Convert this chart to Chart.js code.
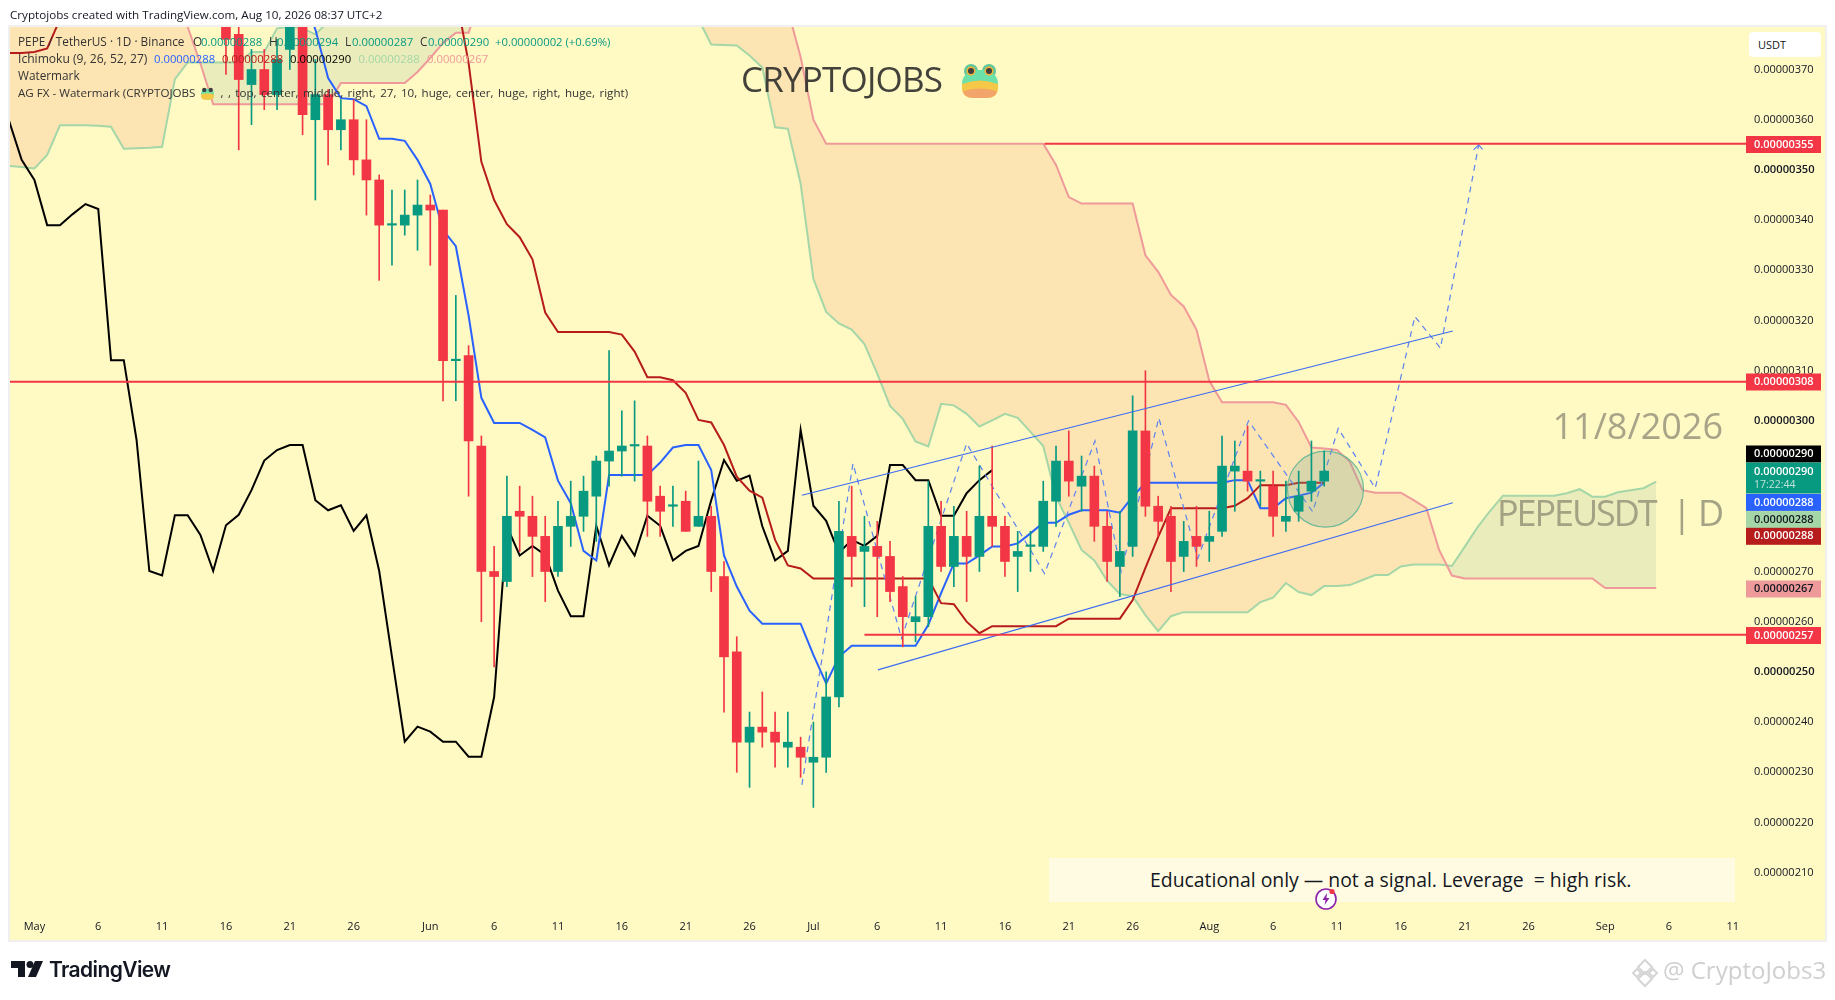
<!DOCTYPE html>
<html><head><meta charset="utf-8">
<script src="https://cdn.jsdelivr.net/npm/chart.js@4"></script>
<style>
html,body{margin:0;padding:0;background:#fff;width:1835px;height:1000px;overflow:hidden}
#wrap{position:relative;width:1835px;height:1000px}
canvas{position:absolute;left:0;top:0}
.t{position:absolute;white-space:pre;font-family:"Open Sans",sans-serif;line-height:1}
.lg{font-size:11.3px;color:#333}
</style></head><body><div id="wrap"><canvas id="c" width="1835" height="1000"></canvas></div>
<script>
// All prices are in units of 0.00000001 USDT. Day numbers count from 1 May (0 = May 1).
const candleFirstDay = 15;
const opens = [385,377,367,370,365,374,383,360,365,358,360,352,348,339,339,341,343,342,312,313,295,270,268,282,281,277,270,279,281,285,292,294,295,295,285,283,284,279,281,269,254,236,239,238,235,235,232,233,245,277,274,275,273,267,260,261,279,271,277,273,281,279,273,275,275,284,292,287,289,279,271,275,298,283,281,273,277,276,278,290,290,288,287,280,282,286,288];
const highs = [390,382,374,374,376,386,386,372,366,364,364,360,349,346,346,348,345,342,325,315,297,275,289,287,285,281,284,288,289,293,314,302,304,297,287,287,286,292,283,272,257,242,246,242,242,237,240,250,284,287,281,280,276,269,265,288,284,283,282,291,295,281,278,278,288,295,298,293,291,282,282,305,310,285,283,280,283,282,297,296,299,290,290,288,290,296,294];
const lows = [369,354,359,362,362,370,357,344,351,354,349,341,328,331,337,334,331,304,304,285,260,251,267,274,269,264,269,275,278,276,287,289,288,277,277,279,278,279,266,242,230,227,235,231,231,229,223,230,243,267,263,261,264,255,256,259,270,267,264,270,275,269,266,270,274,279,285,282,276,268,265,273,281,277,266,270,271,272,277,282,286,283,277,278,280,284,287];
const closes = [376,368,370,365,372,383,361,365,358,360,352,348,339,339,341,343,342,312,312,296,270,269,281,281,277,270,279,281,286,292,294,295,295,284,282,283,278,281,270,253,236,239,238,236,236,233,233,245,278,273,275,273,266,261,261,279,271,277,273,281,279,272,274,275,284,292,288,289,279,272,274,298,283,280,272,276,275,277,291,291,288,288,281,281,285,288,290];

const conversionFirstDay = 21;
const conversion = [385,378,368.3,364.3,364.1,362.7,356.2,356.2,355.8,352,
347.2,338,334.8,321,304.6,299.6,299.6,299.6,298.2,296.7,
288.1,283.6,274.1,272.2,289.2,289.2,289.2,289.2,291.7,294.7,
295.2,295.2,290.2,273.2,267,262.2,259.6,259.6,259.6,259.6,
253.4,247.7,253,255.2,255.2,255.2,255.2,255.2,255.2,259.4,
265.7,271.6,271.6,273.2,275,275,275.6,277.6,279.7,279.7,
281.3,282.2,282.2,282.2,281.7,284.9,287.7,287.7,287.7,287.7,
287.7,287.7,287.7,288.2,288.2,282.6,282.6,284.6,285.1,285.7,287.7];

const seriesFirstDay = -2;
const base = [373.3,373.3,373.5,374.2,380,395,395,395,395,395,
395,395,395,395,395,395,395,395,395,395,
395,395,395,395,395,395,395,395,395,395,
395,395,395,395,395,385,371.3,351.6,344,339.2,
336.6,332.2,321.6,317.7,317.7,317.7,317.7,317.7,317.2,313.8,
308.7,308.7,308.1,305.6,300.2,299.7,295.2,288.9,286.1,284.7,
276.3,271.2,270.6,268.6,268.6,268.6,268.6,268.6,268.6,268.6,
268.6,268.6,268.6,263.7,263.5,260,257.7,259.1,259.1,259.1,
259.1,259.1,259.1,260.6,260.6,260.6,260.6,260.6,264.3,270.7,
276.9,282.6,282.6,282.6,282.6,282.6,283.1,284.6,287.2,287.2,
287.2,287.7,287.7,287.7];
const lagging = [359.9,352,348,339,339,341.2,343.2,342.2,312.1,312.1,
296.2,270.1,269.2,281.2,281.2,277.3,270.1,279.2,281.3,286.2,
292.1,294.2,295.2,295.2,284.2,282.2,283.2,278.1,281.2,270.1,
253,236.1,239.1,238.1,236.1,236.1,233.1,233.1,245,279,
273.2,275.1,273.3,266.2,261.1,261.1,279.1,271.2,277.1,273.2,
281.1,279.1,272.2,274.1,275.1,284.2,292.2,288.1,289.1,279,
272.2,274.1,298.2,283.1,280.1,273.7,276.3,275.1,277.1,291.2,
291.2,288.2,288.2,281.1,281.1,285.6,288.2,290.2];
const leadA = [350.8,350.6,350.3,353,358.9,358.9,358.9,358.8,358.6,354.2,
354.3,354.4,354.6,368.1,371.4,371.4,371.4,371.4,371.4,373.5,
373.5,378.2,378.5,378.2,377,379.5,385,385,385,385,
385,385,385,385,385,385,385,385,385,385,
385,385,385,385,385,385,385,385,385,385,
385,385,385,385,380,375,374.9,374.8,372.8,370.4,
358.5,358.2,347.3,328.3,321.7,319.4,318.2,315.3,309.4,303,
300.4,295.9,294.9,303.4,303.1,301.4,298.9,300.1,301.4,300.6,
297.8,295,284.9,279.7,274.3,272.2,268.2,265.5,265.1,261.3,
258.1,261.1,261.9,261.9,261.9,261.9,261.9,261.9,263.9,264.8,
267.7,265.9,265.3,267.1,267.1,267.3,268.3,269.3,269.3,271,
271.4,271.4,271.4,271.1,274.9,278.8,282.1,285.1,285.1,285.1,
285.1,285.1,285.6,286.4,284.9,284.9,285.8,286.2,286.6,287.9];
const leadB = [395,395,395,395,395,395,395,395,395,395,
395,395,395,395,378.5,371.2,363.1,363.1,363.1,363.1,
363.1,363.1,363.1,363.1,363.1,363.1,367.3,367.3,367.3,367.3,
367.3,367.3,369.5,372.3,375.3,377.3,377.3,385,395,395,
395,395,395,395,395,395,395,395,395,395,
395,395,395,395,395,395,395,395,395,395,
395,381.9,372.5,360,355.2,355.2,355.2,355.2,355.2,355.2,
355.2,355.2,355.2,355.2,355.2,355.2,355.2,355.2,355.2,355.2,
355.2,355.2,351,344.6,343.3,343.3,343.3,343.3,343.3,333,
329.7,325.1,322.8,318.2,308,303.7,303.7,303.7,303.7,303.7,
303.2,299.8,294.7,294.5,294.2,291.9,286.2,285.7,285.7,285.7,
284.2,282.6,274.3,269.2,268.6,268.6,268.6,268.6,268.6,268.6,
268.6,268.6,268.6,268.6,268.6,266.7,266.7,266.7,266.7,266.7];

// Drawn annotations
const forecastDays = [60.1,64.1,67.9,73,79.1,83.05,85.1,88.05,91.1,95.07,100.1,102.1,105,108.1,110.1,113.1];
const forecastVals = [227.5,291.5,256.7,295.5,269.6,296,270,300.6,272.6,300,281.9,298.5,286.6,320.8,314.5,355];
const arrowDays = [112.7,113.1,113.4];
const arrowVals = [354,355,354.1];
const upperChannelDays = [60.1,111.07];
const upperChannelVals = [285.2,317.9];
const lowerChannelDays = [66.05,111.07];
const lowerChannelVals = [250.4,283.7];
const resistance355Days = [79.1,134.03];
const resistance355Vals = [355.2,355.2];
const level308Days = [-2,134.03];
const level308Vals = [307.8,307.8];
const support257Days = [65,134.03];
const support257Vals = [257.4,257.4];
const circleDay = [101.1];
const circleVal = [286.4];

const yTickValues = [210,220,230,240,250,260,270,280,290,300,310,320,330,340,350,360,370];
const xTickDays = [0,5,10,15,20,25,31,36,41,46,51,56,61,66,71,76,81,86,92,97,102,107,112,117,123,128,133];
const xTickLabels = ["May","6","11","16","21","26","Jun","6","11","16","21","26","Jul","6","11","16","21","26","Aug","6","11","16","21","26","Sep","6","11"];

const tagTexts = ["0.00000355","0.00000308","0.00000290","0.00000290","0.00000288","0.00000288","0.00000288","0.00000267","0.00000257"];
const countdownText = "17:22:44";

const RED="#F23645", GREEN="#089981", YEL="#FFF9C4";
const FF='"Open Sans",sans-serif';
const pts=(first,vals)=>vals.map((y,i)=>({x:first+i,y}));
const xy=(xs,ys)=>xs.map((x,i)=>({x,y:ys[i]}));
const candleColors=opens.map((o,i)=>closes[i]>=o?GREEN:RED);

const line=(data,color,width,order,extra)=>Object.assign({type:'line',data,borderColor:color,borderWidth:width,pointRadius:0,tension:0,order,fill:false},extra||{});

const datasets=[
  line(pts(seriesFirstDay,leadB),'#EF9A9A',2,48),
  line(pts(seriesFirstDay,leadA),'#A5D6A7',2,49,{fill:{target:0,above:'#EAEDBB',below:'#FDE5B3'}}),
  line(pts(seriesFirstDay,lagging),'#000000',2,40),
  line(pts(conversionFirstDay,conversion),'#2962FF',2,39),
  line(pts(seriesFirstDay,base),'#B71C1C',2,38),
  line(xy(forecastDays,forecastVals),'#5B82F0',1.2,30,{borderDash:[6,5]}),
  line(xy(arrowDays,arrowVals),'#5B82F0',1.2,30),
  {type:'line',data:xy(circleDay,circleVal),showLine:false,pointRadius:38,pointHoverRadius:38,pointBackgroundColor:'rgba(120,172,146,.27)',pointBorderColor:'#6DB89A',pointBorderWidth:1.2,order:25},
  {type:'bar',data:candleColors.map((c,i)=>({x:candleFirstDay+i,y:[lows[i],highs[i]]})),backgroundColor:candleColors,barThickness:1,grouped:false,order:20},
  {type:'bar',data:candleColors.map((c,i)=>({x:candleFirstDay+i,y:[opens[i],closes[i]]})),backgroundColor:candleColors,barThickness:9,grouped:false,minBarLength:1.5,order:19},
  line(xy(upperChannelDays,upperChannelVals),'#3C6CF0',1.1,10),
  line(xy(lowerChannelDays,lowerChannelVals),'#3C6CF0',1.1,10),
  line(xy(resistance355Days,resistance355Vals),RED,2,9),
  line(xy(level308Days,level308Vals),RED,2,9),
  line(xy(support257Days,support257Vals),RED,2,9)
];

const panelPlugin={id:'panel',beforeDraw(ch){const g=ch.ctx;g.save();g.fillStyle='#F0F1EE';g.fillRect(8,25,1819,917);g.fillStyle=YEL;g.fillRect(10,27,1815,913);g.restore();}};
const tagPlugin={id:'tags',afterDraw(ch){
  const g=ch.ctx;
  const spec=[[144.5,RED,'#fff'],[382,RED,'#fff'],[454,'#000','#fff'],[478,GREEN,'#fff'],[502.4,'#2962FF','#fff'],[519.6,'#A5D6A7','#131722'],[536.3,'#B71C1C','#fff'],[589,'#EF9A9A','#131722'],[635.5,RED,'#fff']];
  g.save();g.textBaseline='middle';g.textAlign='left';
  spec.forEach((s,i)=>{
    const h=i===3?31:17;
    g.fillStyle=s[1];g.fillRect(1746,s[0]-h/2,75,h);
    g.fillStyle=s[2];g.font='600 11px '+FF;
    g.fillText(tagTexts[i],1754,i===3?471.5:s[0]);
    if(i===3){g.font='10.5px '+FF;g.fillStyle='#BFE3DA';g.fillText(countdownText,1754,485.5);}
  });
  g.restore();
}};

new Chart(document.getElementById('c'),{
  type:'bar',data:{datasets},plugins:[panelPlugin,tagPlugin],
  options:{responsive:false,animation:false,devicePixelRatio:1,events:[],
    layout:{autoPadding:false,padding:{left:10,top:27,right:10,bottom:60}},
    plugins:{legend:{display:false},tooltip:{enabled:false}},
    scales:{
      x:{type:'linear',offset:false,min:-1.911,max:134.03,grid:{display:false},border:{display:false},
        afterBuildTicks(s){s.ticks=xTickDays.map(v=>({value:v}));},
        afterFit(s){s.height=28;},
        ticks:{autoSkip:false,maxRotation:0,padding:0,color:'#131722',font:{family:FF,size:11},
          callback(v){const i=xTickDays.indexOf(v);return i<0?'':xTickLabels[i];}}},
      y:{type:'linear',position:'right',min:202.17,max:378.47,grid:{display:false},border:{display:false},
        afterBuildTicks(s){s.ticks=yTickValues.map(v=>({value:v}));},
        afterFit(s){s.width=79;},
        ticks:{autoSkip:false,padding:0,color:'#131722',
          font(c){return c.tick&&c.tick.value%50===0?{family:FF,size:11.2,weight:'600'}:{family:FF,size:11};},
          callback(v){return (v/1e8).toFixed(8);}}}
    }}
});

// Page furniture as real text
const W=document.getElementById('wrap');
function T(txt,x,y,css,cls){const d=document.createElement('div');d.className='t '+(cls||'');d.textContent=txt;d.style.left=x+'px';d.style.top=y+'px';d.style.cssText+=';'+(css||'');W.appendChild(d);return d;}
T("Cryptojobs created with TradingView.com, Aug 10, 2026 08:37 UTC+2",10,9,"font-size:11.65px;color:#131722");
const lab="font-size:11.8px;color:";
const tl=[["PEPE / TetherUS · 1D · Binance",18,36,lab+"#333"],["O",193,36,lab+"#333"],["0.00000288",201,36,"color:"+GREEN],["H",269,36,lab+"#333"],["0.00000294",277,36,"color:"+GREEN],["L",345,36,lab+"#333"],["0.00000287",352,36,"color:"+GREEN],["C",420,36,lab+"#333"],["0.00000290",428,36,"color:"+GREEN],["+0.00000002 (+0.69%)",495,36,"color:"+GREEN],
["Ichimoku (9, 26, 52, 27)",18,53,"font-size:12.1px;color:#333"],["0.00000288",154,53,"color:#2962FF"],["0.00000288",222,53,"color:#B71C1C"],["0.00000290",290,53,"color:#000"],["0.00000288",358.5,53,"color:#A5D6A7"],["0.00000267",427,53,"color:#EF9A9A"],
["Watermark",18,70,lab+"#333"],["AG FX - Watermark (CRYPTOJOBS",18,87,"font-size:11.6px;color:#333"],[", , top, center, middle, right, 27, 10, huge, center, huge, right, huge, right)",220.5,87,"font-size:11.6px;word-spacing:1.4px;color:#333"]];
tl.forEach(a=>T(a[0],a[1],a[2],a[3],"lg"));
T("CRYPTOJOBS",741,60.5,"font-size:35px;letter-spacing:-.8px;color:rgba(40,40,40,.88)");
T("11/8/2026",1552.5,407.5,"font-size:36px;color:#A8A488");
T("PEPEUSDT",1497,494.5,"font-size:36px;color:#A3A284;letter-spacing:-2.1px");
T("|",1672,494.5,"font-size:36px;color:#A3A284");
T("D",1698,494.5,"font-size:36px;color:#A3A284");
T("",1049,858,"width:686px;height:44px;background:#FFFBE3");
T("Educational only — not a signal. Leverage  = high risk.",1150,870,"font-size:19.4px;color:#131722");
T("USDT",1749,31.5,"width:63px;height:25px;padding-left:9px;line-height:25px;font-size:11px;color:#131722;background:#fff;border-radius:4px");
T("TradingView",49,959,"font-family:Inter,sans-serif;font-weight:600;font-size:21px;color:#131722;letter-spacing:-.6px");
T("@ CryptoJobs3",1663,958,"font-size:24px;color:#CFCFCF");
function S(html,x,y,w,h){const d=document.createElement('div');d.style.cssText=`position:absolute;left:${x}px;top:${y}px;width:${w}px;height:${h}px`;d.innerHTML=html;W.appendChild(d);}
// frog icon
S(`<svg width="36" height="34" viewBox="0 0 36 34"><circle cx="9" cy="7" r="7" fill="#5FC79A"/><circle cx="27" cy="7" r="7" fill="#5FC79A"/><rect x="0" y="6" width="36" height="28" rx="14" fill="#6BE0A8"/><path d="M0 20 Q18 13 36 20 L36 24 Q36 34 24 34 L12 34 Q0 34 0 24Z" fill="#F5C947"/><path d="M1 27 Q18 22 35 27 Q34 34 24 34 L12 34 Q2 34 1 27Z" fill="#F2A46A"/><circle cx="9" cy="7" r="4.5" fill="#F3B23C"/><circle cx="27" cy="7" r="4.5" fill="#F3B23C"/><circle cx="9" cy="7" r="3" fill="#3F3F3F"/><circle cx="27" cy="7" r="3" fill="#3F3F3F"/></svg>`,961.5,63.5,36,34);
// small legend frog
S(`<svg width="13" height="13" viewBox="0 0 36 34"><rect x="0" y="4" width="36" height="30" rx="14" fill="#6BE0A8"/><path d="M0 20 Q18 13 36 20 L36 24 Q36 34 24 34 L12 34 Q0 34 0 24Z" fill="#F5C947"/><circle cx="9" cy="7" r="6" fill="#3F3F3F"/><circle cx="27" cy="7" r="6" fill="#3F3F3F"/></svg>`,201,86,13,13);
// lightning marker
S(`<svg width="24" height="24" viewBox="0 0 24 24"><circle cx="12" cy="12" r="10" fill="#fff" stroke="#8E24AA" stroke-width="1.6"/><path d="M13 6 L8.5 13 L11.5 13 L10.5 18 L15.5 11 L12.5 11Z" fill="#8E24AA"/><circle cx="18" cy="4.5" r="2.6" fill="#F23645"/></svg>`,1314,887,24,24);
// TradingView logo mark
S(`<svg width="32" height="16" viewBox="0 0 32 16"><path d="M0 0H14V16H7V7H0Z" fill="#131722"/><circle cx="19" cy="3.5" r="3.5" fill="#131722"/><path d="M24 0H32L25 16H17Z" fill="#131722"/></svg>`,11,961,32,16);
// binance mark
S(`<svg width="28" height="30" viewBox="0 0 28 30"><g fill="none" stroke="#D5D5D5" stroke-width="2"><path d="M14 2L21 9L14 16L7 9Z"/><path d="M14 14L21 21L14 28L7 21Z"/><path d="M6 11L10 15L6 19L2 15Z"/><path d="M22 11L26 15L22 19L18 15Z"/></g></svg>`,1631,958,28,30);
</script></body></html>
